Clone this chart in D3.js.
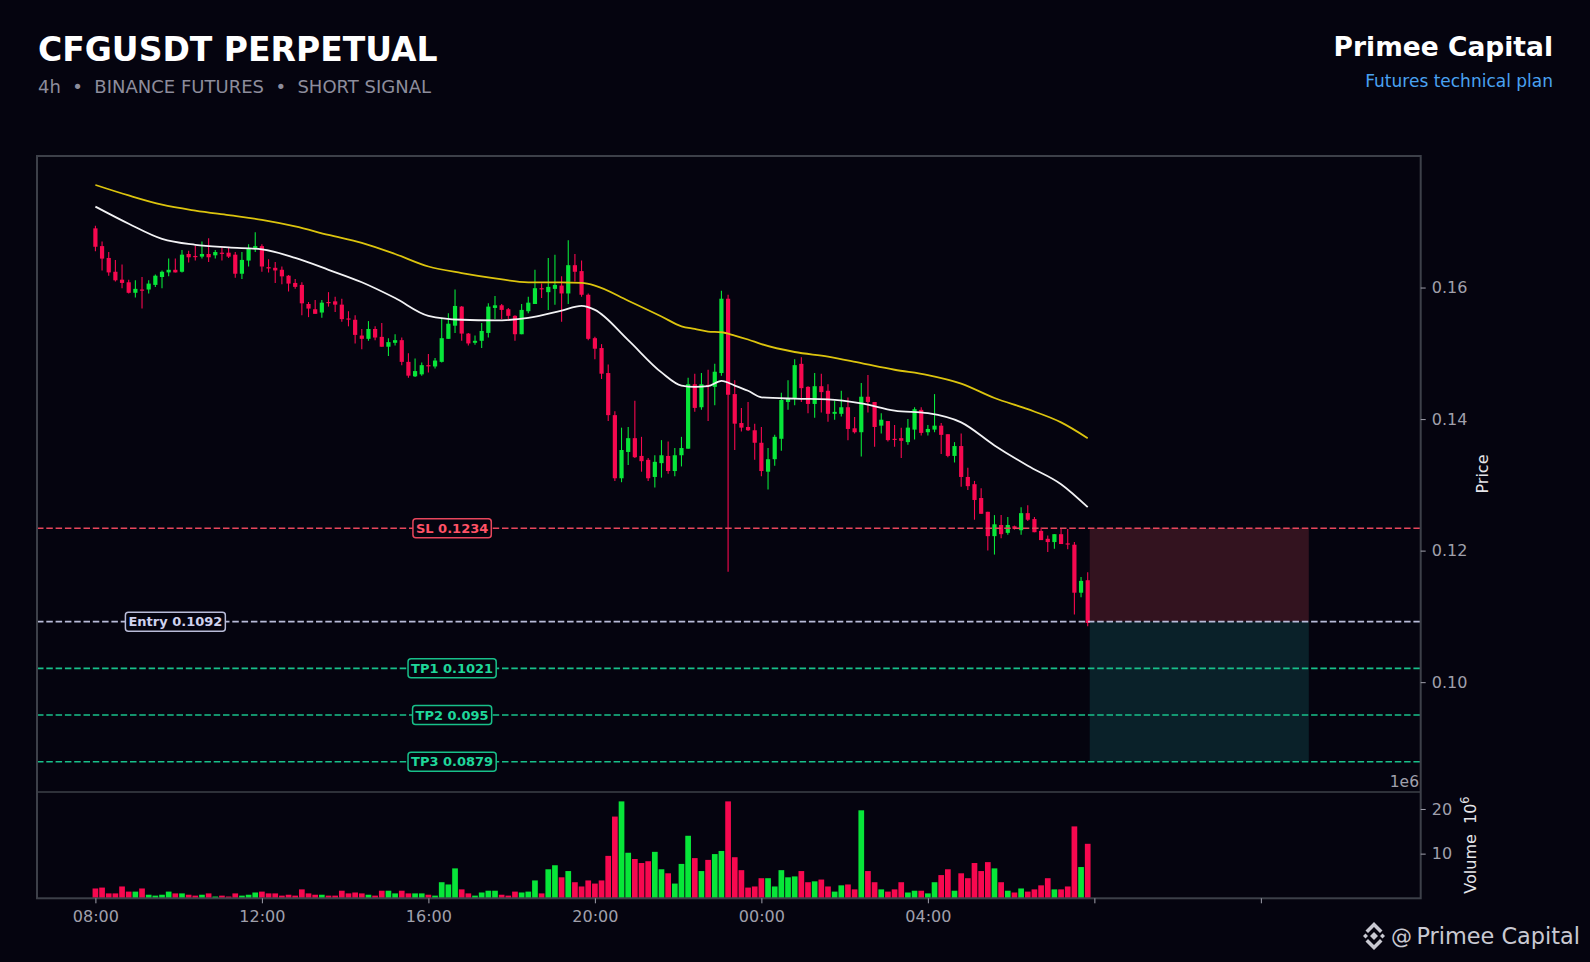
<!DOCTYPE html>
<html><head><meta charset="utf-8">
<script src="https://cdn.jsdelivr.net/npm/d3@7/dist/d3.min.js"></script>
<style>
html,body{margin:0;padding:0;background:#05040f;}
svg{display:block;font-family:"DejaVu Sans",sans-serif;}
</style>
</head><body>
<svg id="chart" width="1590" height="962"></svg>
<script>
// ---------- DATA ----------
const opens=[.1690,.1663,.1645,.1624,.1612,.1608,.1592,.1597,.1597,.1604,
.1616,.1623,.1627,.1624,.1651,.1648,.1647,.1651,.1649,.1653,
.1653,.1650,.1621,.1641,.1659,.1663,.1631,.1630,.1627,.1618,
.1607,.1604,.1575,.1567,.1562,.1578,.1579,.1574,.1553,.1551,
.1527,.1522,.1537,.1525,.1510,.1516,.1520,.1487,.1465,.1468,
.1482,.1480,.1487,.1522,.1542,.1571,.1530,.1516,.1519,.1531,
.1569,.1573,.1567,.1557,.1529,.1564,.1575,.1599,.1593,.1598,
.1603,.1591,.1634,.1625,.1589,.1523,.1508,.1470,.1406,.1310,
.1350,.1371,.1344,.1338,.1312,.1333,.1344,.1321,.1345,.1355,
.1453,.1418,.1452,.1449,.1470,.1583,.1438,.1394,.1388,.1383,
.1364,.1320,.1339,.1370,.1426,.1431,.1484,.1449,.1423,.1450,
.1443,.1408,.1408,.1418,.1386,.1380,.1434,.1426,.1390,.1397,
.1370,.1371,.1365,.1384,.1414,.1380,.1384,.1390,.1377,.1344,
.1359,.1312,.1301,.1280,.1259,.1222,.1239,.1227,.1237,.1231,
.1257,.1248,.1230,.1218,.1213,.1225,.1211,.1209,.1136,.1155];
const highs=[.1694,.1670,.1654,.1642,.1635,.1612,.1611,.1616,.1611,.1620,
.1626,.1644,.1644,.1657,.1656,.1663,.1670,.1675,.1657,.1661,
.1661,.1654,.1654,.1666,.1684,.1666,.1643,.1639,.1632,.1619,
.1613,.1608,.1578,.1581,.1581,.1593,.1586,.1583,.1564,.1558,
.1537,.1549,.1541,.1546,.1523,.1529,.1524,.1500,.1492,.1486,
.1499,.1493,.1552,.1561,.1597,.1572,.1531,.1527,.1546,.1576,
.1587,.1575,.1569,.1558,.1575,.1586,.1627,.1606,.1645,.1650,
.1617,.1672,.1651,.1641,.1591,.1525,.1514,.1483,.1412,.1387,
.1388,.1428,.1373,.1341,.1345,.1368,.1366,.1356,.1373,.1463,
.1469,.1470,.1475,.1484,.1595,.1589,.1459,.1417,.1426,.1393,
.1388,.1356,.1376,.1440,.1459,.1491,.1494,.1450,.1470,.1469,
.1453,.1428,.1443,.1433,.1403,.1455,.1467,.1426,.1409,.1397,
.1391,.1387,.1400,.1418,.1418,.1391,.1438,.1394,.1377,.1365,
.1378,.1326,.1306,.1295,.1259,.1254,.1254,.1251,.1238,.1266,
.1269,.1251,.1235,.1223,.1225,.1233,.1233,.1213,.1160,.1167];
const lows=[.1655,.1626,.1618,.1609,.1599,.1591,.1585,.1568,.1591,.1601,
.1599,.1617,.1623,.1623,.1638,.1641,.1644,.1639,.1644,.1641,
.1645,.1615,.1613,.1632,.1654,.1624,.1623,.1607,.1605,.1594,
.1598,.1558,.1555,.1560,.1554,.1571,.1563,.1548,.1541,.1515,
.1506,.1519,.1520,.1510,.1496,.1512,.1482,.1463,.1464,.1466,
.1471,.1477,.1486,.1522,.1531,.1519,.1512,.1513,.1508,.1524,
.1552,.1552,.1549,.1519,.1529,.1561,.1575,.1584,.1566,.1574,
.1548,.1575,.1609,.1586,.1520,.1491,.1461,.1397,.1306,.1304,
.1330,.1341,.1320,.1306,.1296,.1311,.1317,.1313,.1328,.1355,
.1411,.1414,.1397,.1421,.1466,.1168,.1353,.1381,.1382,.1338,
.1313,.1293,.1329,.1352,.1414,.1421,.1426,.1409,.1402,.1410,
.1396,.1399,.1404,.1368,.1378,.1343,.1410,.1358,.1378,.1366,
.1358,.1341,.1361,.1369,.1375,.1375,.1380,.1347,.1342,.1334,
.1297,.1292,.1247,.1256,.1200,.1194,.1219,.1224,.1232,.1224,
.1245,.1228,.1216,.1198,.1203,.1210,.1202,.1103,.1129,.1085];
const closes=[.1662,.1644,.1623,.1611,.1607,.1592,.1598,.1596,.1606,.1618,
.1624,.1627,.1623,.1650,.1646,.1647,.1651,.1646,.1654,.1652,
.1647,.1621,.1642,.1660,.1663,.1632,.1629,.1626,.1617,.1606,
.1601,.1576,.1568,.1560,.1577,.1577,.1574,.1552,.1552,.1528,
.1522,.1537,.1524,.1510,.1517,.1520,.1487,.1466,.1473,.1482,
.1481,.1489,.1523,.1545,.1572,.1530,.1515,.1519,.1534,.1571,
.1573,.1566,.1557,.1529,.1566,.1577,.1599,.1598,.1601,.1604,
.1591,.1634,.1624,.1589,.1522,.1507,.1469,.1406,.1310,.1353,
.1371,.1342,.1336,.1310,.1335,.1345,.1321,.1345,.1356,.1453,
.1417,.1453,.1451,.1472,.1583,.1437,.1393,.1387,.1383,.1364,
.1321,.1339,.1373,.1429,.1431,.1482,.1447,.1423,.1450,.1441,
.1408,.1411,.1418,.1385,.1380,.1434,.1426,.1388,.1399,.1368,
.1369,.1367,.1387,.1415,.1379,.1385,.1390,.1376,.1344,.1359,
.1312,.1298,.1277,.1256,.1222,.1240,.1225,.1239,.1233,.1257,
.1247,.1228,.1216,.1213,.1225,.1210,.1210,.1136,.1154,.1090];
const volumesM=[2.2,2.4,1.1,1.1,2.65,1.5,1.5,2.2,0.8,0.6,
0.8,1.5,1.1,1.1,0.8,0.6,0.8,1.1,0.4,0.6,
0.4,1.1,0.6,0.8,1.3,1.5,1.1,1.1,0.6,0.8,
0.6,2.0,1.1,0.8,0.8,0.6,0.6,1.7,1.1,1.3,
1.1,0.8,0.6,1.7,1.7,1.1,1.7,1.1,1.1,1.1,
0.8,0.6,3.6,3.1,6.7,2.0,1.1,0.6,1.3,1.7,
1.7,0.8,0.6,1.5,1.3,1.5,4.0,1.1,6.5,7.4,
4.7,6.1,3.6,2.65,4.0,3.3,4.0,9.5,18.3,21.7,
10.2,8.8,7.9,8.3,10.4,6.5,5.6,3.3,7.7,14.0,
9.0,6.1,8.6,9.9,10.6,21.7,9.2,6.3,2.4,2.65,
4.5,4.5,2.65,6.3,4.7,4.9,6.1,3.6,3.8,4.2,
2.65,1.5,2.9,3.1,2.0,19.7,6.1,3.6,2.0,1.5,
2.0,3.6,1.3,1.7,1.7,1.1,3.6,5.2,6.5,1.7,
5.6,4.5,7.9,6.1,8.1,6.7,3.6,1.7,1.3,2.2,
1.5,2.0,2.9,4.5,2.0,2.0,2.65,16.1,7.0,12.2];
// moving averages, read at these candle positions
const maIdx=[0,5,10,15,20,25,30,35,40,45,50,55,60,65,70,73,75,80,85,88,90,92,94,96,98,100,105,110,115,120,125,130,135,140,145,149];
const maFast=[.1723,.1697,.1674,.1665,.1661,.1658,.1645,.1627,.1608,.1584,.1557,.1551,.1550,.1554,.1565,.1572,.1566,.1520,.1471,.1451,.1449,.1450,.1458,.1451,.1443,.1433,.1431,.1430,.1424,.1413,.1409,.1395,.1360,.1329,.1301,.1266];
const maSlow=[.1756,.1740,.1726,.1717,.1710,.1703,.1693,.1680,.1668,.1651,.1632,.1622,.1614,.1608,.1608,.1607,.1603,.1580,.1556,.1541,.1537,.1533,.1532,.1527,.1521,.1514,.1502,.1495,.1485,.1475,.1467,.1454,.1432,.1415,.1395,.1371];
// trade levels
const levelNames=["SL","Entry","TP1","TP2","TP3"];
const levelPrices=[0.1234,0.1092,0.1021,0.095,0.0879];
// x-axis ticks (candle positions) and labels
const xTickPos=[0,25,50,75,100,125,150,175];
const xTickLabels=["08:00","12:00","16:00","20:00","00:00","04:00","",""];
const priceTicks=[0.10,0.12,0.14,0.16];
const volTicks=[10,20];
const zoneSpan=[149.3,182.2];

// ---------- LAYOUT ----------
const L=37, R=1420.7, T=156, SEP=792, B=898.3;
const BG="#05040f", UP="#07e639", DN="#f7084f";
const svg=d3.select("#chart");
svg.append("rect").attr("width",1590).attr("height",962).attr("fill",BG);

const x=d3.scaleLinear().domain([-8.77,199.0]).range([L,R]);
const y=d3.scaleLinear().domain([0.0833,0.1800]).range([SEP,T]);
const yv=d3.scaleLinear().domain([0,23.8]).range([B,SEP]);

// header
svg.append("text").attr("x",38).attr("y",61).attr("fill","#ffffff")
  .attr("font-size",33).attr("font-weight","bold").text("CFGUSDT PERPETUAL");
svg.append("text").attr("x",38).attr("y",93).attr("fill","#8d8d9c")
  .attr("font-size",18).style("white-space","pre").text("4h  \u2022  BINANCE FUTURES  \u2022  SHORT SIGNAL");
svg.append("text").attr("x",1553).attr("y",56).attr("text-anchor","end").attr("fill","#ffffff")
  .attr("font-size",26.5).attr("font-weight","bold").text("Primee Capital");
svg.append("text").attr("x",1553).attr("y",87).attr("text-anchor","end").attr("fill","#4aa2f2")
  .attr("font-size",17).text("Futures technical plan");

// clip
const defs=svg.append("defs");
defs.append("clipPath").attr("id","pclip").append("rect").attr("x",L).attr("y",T).attr("width",R-L).attr("height",SEP-T);
defs.append("clipPath").attr("id","vclip").append("rect").attr("x",L).attr("y",SEP).attr("width",R-L).attr("height",B-SEP);

const pg=svg.append("g").attr("clip-path","url(#pclip)");

// zones
pg.append("rect").attr("x",x(zoneSpan[0])).attr("width",x(zoneSpan[1])-x(zoneSpan[0]))
  .attr("y",y(levelPrices[0])).attr("height",y(levelPrices[1])-y(levelPrices[0])).attr("fill","#33131f");
pg.append("rect").attr("x",x(zoneSpan[0])).attr("width",x(zoneSpan[1])-x(zoneSpan[0]))
  .attr("y",y(levelPrices[1])).attr("height",y(levelPrices[4])-y(levelPrices[1])).attr("fill","#0a2129");

// candles
const n=closes.length;
const idx=d3.range(n);
const bw=4.2;
const cg=pg.append("g");
cg.selectAll("line.w").data(idx).join("line")
  .attr("x1",i=>x(i)).attr("x2",i=>x(i))
  .attr("y1",i=>y(highs[i])).attr("y2",i=>y(lows[i]))
  .attr("stroke",i=>closes[i]>=opens[i]?UP:DN).attr("stroke-width",1.1);
cg.selectAll("rect.b").data(idx).join("rect")
  .attr("x",i=>x(i)-bw/2).attr("width",bw)
  .attr("y",i=>y(Math.max(opens[i],closes[i])))
  .attr("height",i=>Math.max(1.2,Math.abs(y(opens[i])-y(closes[i]))))
  .attr("fill",i=>closes[i]>=opens[i]?UP:DN);

// moving averages
const line=d3.line().x(d=>x(d[0])).y(d=>y(d[1])).curve(d3.curveMonotoneX);
pg.append("path").datum(maIdx.map((k,j)=>[k,maSlow[j]])).attr("d",line)
  .attr("fill","none").attr("stroke","#dcc40e").attr("stroke-width",1.8);
pg.append("path").datum(maIdx.map((k,j)=>[k,maFast[j]])).attr("d",line)
  .attr("fill","none").attr("stroke","#f2f2f4").attr("stroke-width",1.8);

// levels
const lineCols=["#e8465c","#b9bcd9","#18c08a","#18c08a","#18c08a"];
const txtCols=["#ff5266","#cfd2ee","#1fd79a","#1fd79a","#1fd79a"];
const labelFrac=[0.30,0.10,0.30,0.30,0.30];
levelPrices.forEach((p,k)=>{
  pg.append("line").attr("x1",L).attr("x2",R).attr("y1",y(p)).attr("y2",y(p))
    .attr("stroke",lineCols[k]).attr("stroke-width",1.6).attr("stroke-dasharray","6.5,2.8");
});
levelPrices.forEach((p,k)=>{
  const cx=L+labelFrac[k]*(R-L), cy=y(p);
  const g=svg.append("g");
  const t=g.append("text").attr("x",cx).attr("y",cy).attr("dy","0.36em").attr("text-anchor","middle")
    .attr("font-size",13).attr("font-weight","bold").attr("fill",txtCols[k])
    .text(levelNames[k]+" "+p);
  const bb=t.node().getBBox();
  g.insert("rect","text").attr("x",bb.x-3).attr("y",cy-9.5).attr("width",bb.width+6).attr("height",19)
    .attr("rx",3).attr("fill",BG).attr("stroke",lineCols[k]).attr("stroke-width",1.5);
});

// volume
const vg=svg.append("g").attr("clip-path","url(#vclip)");
const vw=5.7;
vg.selectAll("rect").data(idx).join("rect")
  .attr("x",i=>x(i)-vw/2).attr("width",vw)
  .attr("y",i=>yv(volumesM[i])).attr("height",i=>B-yv(volumesM[i]))
  .attr("fill",i=>closes[i]>=opens[i]?UP:DN);

// frame
const FR="#3d4049";
svg.append("rect").attr("x",L).attr("y",T).attr("width",R-L).attr("height",B-T)
  .attr("fill","none").attr("stroke",FR).attr("stroke-width",2);
svg.append("line").attr("x1",L).attr("x2",R).attr("y1",SEP).attr("y2",SEP)
  .attr("stroke",FR).attr("stroke-width",1.6);

// axes
const TC="#a0a0ac";
function styleAxis(g){
  g.select(".domain").remove();
  g.selectAll("line").attr("stroke",TC);
  g.selectAll("text").attr("fill",TC).attr("font-size",16).attr("font-family","DejaVu Sans");
}
svg.append("g").attr("transform",`translate(${R},0)`)
  .call(d3.axisRight(y).tickValues(priceTicks).tickFormat(d3.format(".2f")).tickSize(5).tickPadding(6))
  .call(styleAxis);
svg.append("g").attr("transform",`translate(${R},0)`)
  .call(d3.axisRight(yv).tickValues(volTicks).tickFormat(d3.format("d")).tickSize(5).tickPadding(6))
  .call(styleAxis);
svg.append("g").attr("transform",`translate(0,${B})`)
  .call(d3.axisBottom(x).tickValues(xTickPos).tickFormat((d,i)=>xTickLabels[i]).tickSize(5).tickPadding(7))
  .call(styleAxis);

svg.append("text").attr("x",1419).attr("y",787).attr("text-anchor","end").attr("fill",TC)
  .attr("font-size",15.5).text("1e6");

svg.append("text").attr("transform","translate(1488,474) rotate(-90)").attr("text-anchor","middle")
  .attr("fill","#e6e6ea").attr("font-size",16).text("Price");
const vl=svg.append("text").attr("transform","translate(1476,845) rotate(-90)").attr("text-anchor","middle")
  .attr("fill","#e6e6ea").attr("font-size",16).style("white-space","pre");
vl.append("tspan").text("Volume  10");
vl.append("tspan").attr("dy",-7).attr("font-size",11.5).text("6");

// watermark
const wm=svg.append("g").attr("fill","#c9c9d2");
wm.append("text").attr("x",1412).attr("y",944).attr("text-anchor","end").attr("font-size",21).text("@");
wm.append("text").attr("x",1580).attr("y",944).attr("text-anchor","end").attr("font-size",22.4).text("Primee Capital");
const lg=wm.append("g").attr("transform","translate(1374,936)");
lg.append("path").attr("d","M0,-4 L4,0 L0,4 L-4,0 Z");
lg.append("path").attr("d","M-11,0 L-8.5,-2.5 L-6,0 L-8.5,2.5 Z");
lg.append("path").attr("d","M11,0 L8.5,-2.5 L6,0 L8.5,2.5 Z");
lg.append("path").attr("d","M0,-14 L8.5,-5.5 L6,-3 L0,-9 L-6,-3 L-8.5,-5.5 Z");
lg.append("path").attr("d","M0,14 L8.5,5.5 L6,3 L0,9 L-6,3 L-8.5,5.5 Z");
</script>
</body></html>
